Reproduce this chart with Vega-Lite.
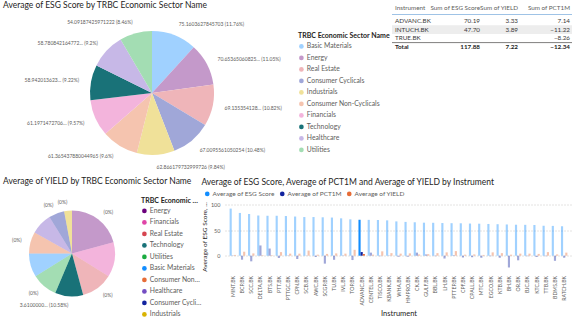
{
  "$schema": "https://vega.github.io/schema/vega-lite/v6.json",
  "background": "white",
  "padding": {"left": 3, "top": 0, "right": 0, "bottom": 0},
  "autosize": {"type": "pad"},
  "config": {
    "font": "Lato",
    "view": {"stroke": null},
    "title": {"font": "Lato", "fontSize": 8.5, "fontWeight": "normal", "color": "#252423", "anchor": "start"},
    "legend": {"labelFont": "Lato", "titleFont": "Lato", "labelColor": "#605E5C", "titleColor": "#252423", "symbolType": "circle", "symbolStrokeWidth": 0}
  },
  "datasets": {
    "esgBySector": [
      {"sector": "Basic Materials", "value": 75.1603627845703, "label": "75.1603627845703 (11.76%)"},
      {"sector": "Energy", "value": 70.6536506082, "label": "70.65365060825... (11.05%)"},
      {"sector": "Real Estate", "value": 69.135354128, "label": "69.135354128... (10.82%)"},
      {"sector": "Consumer Cyclicals", "value": 67.0095561050254, "label": "67.0095561050254 (10.48%)"},
      {"sector": "Industrials", "value": 62.866179732999726, "label": "62.866179732999726 (9.84%)"},
      {"sector": "Consumer Non-Cyclicals", "value": 61.365437880044965, "label": "61.365437880044965 (9.6%)"},
      {"sector": "Financials", "value": 61.1971472706, "label": "61.1971472706... (9.57%)"},
      {"sector": "Technology", "value": 58.942013623, "label": "58.942013623... (9.22%)"},
      {"sector": "Healthcare", "value": 58.780842164772, "label": "58.780842164772... (9.2%)"},
      {"sector": "Utilities", "value": 54.09187425971222, "label": "54.09187425971222 (8.46%)"}
    ],
    "yieldBySector": [
      {"sector": "Energy", "value": 7.1, "label": "(0%)"},
      {"sector": "Financials", "value": 4.46, "label": ""},
      {"sector": "Real Estate", "value": 4.08, "label": "(0%)"},
      {"sector": "Technology", "value": 3.61, "label": "3.6100000... (10.58%)"},
      {"sector": "Utilities", "value": 3.32, "label": "(0%)"},
      {"sector": "Basic Materials", "value": 3.03, "label": ""},
      {"sector": "Consumer Non-Cyclicals", "value": 2.8, "label": "(0%)"},
      {"sector": "Healthcare", "value": 2.75, "label": ""},
      {"sector": "Consumer Cyclicals", "value": 2.0, "label": "(0%)"},
      {"sector": "Industrials", "value": 1.0, "label": "(0%)"}
    ],
    "table": [
      {"Instrument": "ADVANC.BK", "Sum of ESG Score": 70.19, "Sum of YIELD": 3.33, "Sum of PCT1M": 7.14},
      {"Instrument": "INTUCH.BK", "Sum of ESG Score": 47.70, "Sum of YIELD": 3.89, "Sum of PCT1M": -11.22},
      {"Instrument": "TRUE.BK", "Sum of ESG Score": null, "Sum of YIELD": null, "Sum of PCT1M": -8.26},
      {"Instrument": "Total", "Sum of ESG Score": 117.88, "Sum of YIELD": 7.22, "Sum of PCT1M": -12.34}
    ],
    "instruments": [
      {"Instrument": "MINT.BK", "Average of ESG Score": 92, "Average of PCT1M": -0.5, "Average of YIELD": 1.5},
      {"Instrument": "BCP.BK", "Average of ESG Score": 83.5, "Average of PCT1M": -7.8, "Average of YIELD": 7.8},
      {"Instrument": "SCC.BK", "Average of ESG Score": 81.5, "Average of PCT1M": -11, "Average of YIELD": 4.5},
      {"Instrument": "DELTA.BK", "Average of ESG Score": 78.5, "Average of PCT1M": 20, "Average of YIELD": 1},
      {"Instrument": "BTS.BK", "Average of ESG Score": 78, "Average of PCT1M": 14, "Average of YIELD": 1},
      {"Instrument": "PTT.BK", "Average of ESG Score": 78, "Average of PCT1M": -4.5, "Average of YIELD": 7},
      {"Instrument": "PTTGC.BK", "Average of ESG Score": 77.5, "Average of PCT1M": 0.5, "Average of YIELD": 4},
      {"Instrument": "CPN.BK", "Average of ESG Score": 76.5, "Average of PCT1M": -6.5, "Average of YIELD": 4},
      {"Instrument": "SCB.BK", "Average of ESG Score": 75.5, "Average of PCT1M": 0.3, "Average of YIELD": 10},
      {"Instrument": "AWC.BK", "Average of ESG Score": 75.5, "Average of PCT1M": -2.5, "Average of YIELD": 2},
      {"Instrument": "SCGP.BK", "Average of ESG Score": 75, "Average of PCT1M": -15.5, "Average of YIELD": 3.5},
      {"Instrument": "TU.BK", "Average of ESG Score": 74.5, "Average of PCT1M": -8, "Average of YIELD": 4.5},
      {"Instrument": "IVL.BK", "Average of ESG Score": 73, "Average of PCT1M": 0.5, "Average of YIELD": 4},
      {"Instrument": "TOP.BK", "Average of ESG Score": 71, "Average of PCT1M": -8.5, "Average of YIELD": 11.5},
      {"Instrument": "ADVANC.BK", "Average of ESG Score": 70.19, "Average of PCT1M": 7.14, "Average of YIELD": 3.33},
      {"Instrument": "CENTEL.BK", "Average of ESG Score": 70, "Average of PCT1M": 6, "Average of YIELD": 2},
      {"Instrument": "TISCO.BK", "Average of ESG Score": 69.7, "Average of PCT1M": -1, "Average of YIELD": 8.5},
      {"Instrument": "KBANK.BK", "Average of ESG Score": 69, "Average of PCT1M": 0.5, "Average of YIELD": 5},
      {"Instrument": "WHA.BK", "Average of ESG Score": 67, "Average of PCT1M": -2, "Average of YIELD": 4},
      {"Instrument": "HMPRO.BK", "Average of ESG Score": 66, "Average of PCT1M": -2, "Average of YIELD": 4.5},
      {"Instrument": "CK.BK", "Average of ESG Score": 65.3, "Average of PCT1M": 6, "Average of YIELD": 2.5},
      {"Instrument": "GULF.BK", "Average of ESG Score": 64.5, "Average of PCT1M": 2.5, "Average of YIELD": 3},
      {"Instrument": "BBL.BK", "Average of ESG Score": 64.3, "Average of PCT1M": -1, "Average of YIELD": 5},
      {"Instrument": "LH.BK", "Average of ESG Score": 63.8, "Average of PCT1M": -5.5, "Average of YIELD": 6.5},
      {"Instrument": "PTTEP.BK", "Average of ESG Score": 63.5, "Average of PCT1M": 1, "Average of YIELD": 9},
      {"Instrument": "CPF.BK", "Average of ESG Score": 63.3, "Average of PCT1M": -3.5, "Average of YIELD": 2},
      {"Instrument": "CPALL.BK", "Average of ESG Score": 62.8, "Average of PCT1M": -3, "Average of YIELD": 2.5},
      {"Instrument": "MTC.BK", "Average of ESG Score": 62.5, "Average of PCT1M": -4, "Average of YIELD": 1.5},
      {"Instrument": "EGCO.BK", "Average of ESG Score": 62, "Average of PCT1M": -1, "Average of YIELD": 6.5},
      {"Instrument": "KTB.BK", "Average of ESG Score": 61.5, "Average of PCT1M": -4, "Average of YIELD": 5},
      {"Instrument": "BH.BK", "Average of ESG Score": 61, "Average of PCT1M": -23, "Average of YIELD": 2},
      {"Instrument": "OR.BK", "Average of ESG Score": 60.5, "Average of PCT1M": -9, "Average of YIELD": 4},
      {"Instrument": "BJC.BK", "Average of ESG Score": 60.3, "Average of PCT1M": -1, "Average of YIELD": 4},
      {"Instrument": "KTC.BK", "Average of ESG Score": 60, "Average of PCT1M": -2.5, "Average of YIELD": 3.5},
      {"Instrument": "TTB.BK", "Average of ESG Score": 58.5, "Average of PCT1M": -1, "Average of YIELD": 7},
      {"Instrument": "BDMS.BK", "Average of ESG Score": 58.2, "Average of PCT1M": -10, "Average of YIELD": 2.5},
      {"Instrument": "RATCH.BK", "Average of ESG Score": 57.5, "Average of PCT1M": -4, "Average of YIELD": 6}
    ]
  },
  "spacing": 6.5,
  "resolve": {"scale": {"color": "independent"}, "legend": {"color": "independent"}},
  "vconcat": [
    {
      "bounds": "flush",
      "spacing": 92,
      "resolve": {"scale": {"color": "independent"}, "legend": {"color": "independent"}},
      "hconcat": [
        {
          "width": 296,
          "height": 144,
          "title": {"text": "Average of ESG Score by TRBC Economic Sector Name", "offset": 10.5, "dx": -1},
          "data": {"name": "esgBySector"},
          "encoding": {
            "theta": {"field": "value", "type": "quantitative", "stack": true},
            "order": {"field": "value", "type": "quantitative", "sort": "descending"}
          },
          "layer": [
            {
              "mark": {"type": "arc", "outerRadius": 62},
              "encoding": {
                "color": {
                  "field": "sector", "type": "nominal",
                  "scale": {
                    "domain": ["Basic Materials", "Energy", "Real Estate", "Consumer Cyclicals", "Industrials", "Consumer Non-Cyclicals", "Financials", "Technology", "Healthcare", "Utilities"],
                    "range": ["#A0D1FF", "#C499CA", "#EFB5B9", "#A0A7D8", "#F0E199", "#F5C4AF", "#F3B4DC", "#197278", "#C7B8E7", "#A3DDB3"]
                  },
                  "legend": {
                    "orient": "none", "legendX": 294, "legendY": 11,
                    "title": "TRBC Economic Sector Name",
                    "titleFontSize": 7, "titleFontWeight": "bold", "titlePadding": 4,
                    "labelFontSize": 6.8, "symbolSize": 22, "rowPadding": 3.5, "labelOffset": 2
                  }
                }
              }
            },
            {
              "mark": {"type": "text", "radius": 74, "align": "left", "baseline": "middle", "fontSize": 5, "color": "#605E5C"},
              "encoding": {
                "detail": {"field": "sector"},
                "text": {"condition": {"test": "indexof(['Basic Materials','Energy','Real Estate','Consumer Cyclicals','Industrials'], datum.sector) >= 0", "field": "label", "type": "nominal"}, "value": ""}
              }
            },
            {
              "mark": {"type": "text", "radius": 74, "align": "right", "baseline": "middle", "fontSize": 5, "color": "#605E5C"},
              "encoding": {
                "detail": {"field": "sector"},
                "text": {"condition": {"test": "indexof(['Basic Materials','Energy','Real Estate','Consumer Cyclicals','Industrials'], datum.sector) < 0", "field": "label", "type": "nominal"}, "value": ""}
              }
            }
          ]
        },
        {
          "width": 180,
          "height": 31,
          "data": {"name": "table"},
          "layer": [
            {
              "transform": [{"filter": "datum.Instrument === 'INTUCH.BK'"}],
              "mark": {"type": "rect", "color": "#EDEDED"},
              "encoding": {
                "y": {"field": "Instrument", "type": "nominal", "scale": {"domain": ["ADVANC.BK", "INTUCH.BK", "TRUE.BK", "Total"], "range": [-4.5, 30.3], "paddingInner": 0, "paddingOuter": 0}, "axis": null}
              }
            },
            {
              "transform": [{"filter": "datum.Instrument === 'ADVANC.BK'"}],
              "mark": {"type": "rule", "color": "#9FC3E6", "strokeWidth": 1, "yOffset": -2},
              "encoding": {"y": {"field": "Instrument", "type": "nominal", "bandPosition": 0}}
            },
            {
              "transform": [{"filter": "datum.Instrument === 'Total'"}],
              "mark": {"type": "rule", "color": "#605E5C", "strokeWidth": 0.8},
              "encoding": {"y": {"field": "Instrument", "type": "nominal", "bandPosition": 0}}
            },
            {
              "transform": [{"filter": "datum.Instrument !== 'Total'"}],
              "mark": {"type": "text", "align": "left", "baseline": "middle", "fontSize": 6.3, "color": "#3B3A39", "dx": -19.5},
              "encoding": {
                "x": {
                  "datum": "Instrument", "type": "nominal",
                  "scale": {"type": "band", "domain": ["Instrument", "Sum of ESG Score", "Sum of YIELD", "Sum of PCT1M"], "paddingInner": 0, "paddingOuter": 0},
                  "axis": {
                    "orient": "top", "title": null, "domain": false, "ticks": false, "tickSize": 0,
                    "labelAngle": 0, "labelFontSize": 6.3, "labelColor": "#605E5C", "labelPadding": 11,
                    "labelAlign": {"condition": {"test": "datum.value === 'Instrument'", "value": "left"}, "value": "right"},
                    "labelOffset": {"condition": [{"test": "datum.value === 'Instrument'", "value": -19.5}, {"test": "datum.value === 'Sum of YIELD'", "value": 13.5}], "value": 20.5}
                  }
                },
                "y": {"field": "Instrument", "type": "nominal"},
                "text": {"field": "Instrument", "type": "nominal"}
              }
            },
            {
              "transform": [{"filter": "datum.Instrument === 'Total'"}],
              "mark": {"type": "text", "align": "left", "baseline": "middle", "fontSize": 6.3, "fontWeight": "bold", "color": "#252423", "dx": -19.5},
              "encoding": {
                "x": {"datum": "Instrument", "type": "nominal"},
                "y": {"field": "Instrument", "type": "nominal"},
                "text": {"field": "Instrument", "type": "nominal"}
              }
            },
            {
              "transform": [{"filter": "datum.Instrument !== 'Total' && isValid(datum['Sum of ESG Score'])"}],
              "mark": {"type": "text", "align": "right", "baseline": "middle", "fontSize": 6.3, "color": "#3B3A39", "dx": 20.5},
              "encoding": {
                "x": {"datum": "Sum of ESG Score", "type": "nominal"},
                "y": {"field": "Instrument", "type": "nominal"},
                "text": {"field": "Sum of ESG Score", "type": "quantitative", "format": ".2f"}
              }
            },
            {
              "transform": [{"filter": "datum.Instrument !== 'Total' && isValid(datum['Sum of YIELD'])"}],
              "mark": {"type": "text", "align": "right", "baseline": "middle", "fontSize": 6.3, "color": "#3B3A39", "dx": 13.5},
              "encoding": {
                "x": {"datum": "Sum of YIELD", "type": "nominal"},
                "y": {"field": "Instrument", "type": "nominal"},
                "text": {"field": "Sum of YIELD", "type": "quantitative", "format": ".2f"}
              }
            },
            {
              "transform": [{"filter": "datum.Instrument !== 'Total' && isValid(datum['Sum of PCT1M'])"}],
              "mark": {"type": "text", "align": "right", "baseline": "middle", "fontSize": 6.3, "color": "#3B3A39", "dx": 20.5},
              "encoding": {
                "x": {"datum": "Sum of PCT1M", "type": "nominal"},
                "y": {"field": "Instrument", "type": "nominal"},
                "text": {"field": "Sum of PCT1M", "type": "quantitative", "format": ".2f"}
              }
            },
            {
              "transform": [{"filter": "datum.Instrument === 'Total'"}],
              "mark": {"type": "text", "align": "right", "baseline": "middle", "fontSize": 6.3, "fontWeight": "bold", "color": "#252423", "dx": 20.5},
              "encoding": {
                "x": {"datum": "Sum of ESG Score", "type": "nominal"},
                "y": {"field": "Instrument", "type": "nominal"},
                "text": {"field": "Sum of ESG Score", "type": "quantitative", "format": ".2f"}
              }
            },
            {
              "transform": [{"filter": "datum.Instrument === 'Total'"}],
              "mark": {"type": "text", "align": "right", "baseline": "middle", "fontSize": 6.3, "fontWeight": "bold", "color": "#252423", "dx": 13.5},
              "encoding": {
                "x": {"datum": "Sum of YIELD", "type": "nominal"},
                "y": {"field": "Instrument", "type": "nominal"},
                "text": {"field": "Sum of YIELD", "type": "quantitative", "format": ".2f"}
              }
            },
            {
              "transform": [{"filter": "datum.Instrument === 'Total'"}],
              "mark": {"type": "text", "align": "right", "baseline": "middle", "fontSize": 6.3, "fontWeight": "bold", "color": "#252423", "dx": 20.5},
              "encoding": {
                "x": {"datum": "Sum of PCT1M", "type": "nominal"},
                "y": {"field": "Instrument", "type": "nominal"},
                "text": {"field": "Sum of PCT1M", "type": "quantitative", "format": ".2f"}
              }
            }
          ]
        }
      ]
    },
    {
      "bounds": "flush",
      "spacing": 85,
      "resolve": {"scale": {"color": "independent"}, "legend": {"color": "independent"}},
      "hconcat": [
        {
          "width": 136,
          "height": 98,
          "title": {"text": "Average of YIELD by TRBC Economic Sector Name", "offset": 11, "dx": -1},
          "data": {"name": "yieldBySector"},
          "encoding": {
            "theta": {"field": "value", "type": "quantitative", "stack": true},
            "order": {"field": "value", "type": "quantitative", "sort": "descending"}
          },
          "layer": [
            {
              "mark": {"type": "arc", "outerRadius": 43},
              "encoding": {
                "color": {
                  "field": "sector", "type": "nominal",
                  "scale": {
                    "domain": ["Energy", "Financials", "Real Estate", "Technology", "Utilities", "Basic Materials", "Consumer Non-Cyclicals", "Healthcare", "Consumer Cyclicals", "Industrials"],
                    "range": ["#6B007B", "#E044A7", "#D64550", "#197278", "#1AAB40", "#118DFF", "#E66C37", "#744EC2", "#12239E", "#D9B300"]
                  },
                  "legend": {
                    "orient": "none", "legendX": 137, "legendY": -8,
                    "title": "TRBC Economic Sector Name", "titleLimit": 60,
                    "titleFontSize": 7, "titleFontWeight": "bold", "titlePadding": 4,
                    "labelFontSize": 6.8, "labelLimit": 52, "symbolSize": 22, "rowPadding": 3.5, "labelOffset": 2
                  }
                },
                "opacity": {"condition": {"test": "datum.sector === 'Technology'", "value": 1}, "value": 0.4}
              }
            },
            {
              "mark": {"type": "text", "radius": 52, "align": "left", "baseline": "middle", "fontSize": 5, "color": "#605E5C"},
              "encoding": {
                "detail": {"field": "sector"},
                "text": {"condition": {"test": "indexof(['Energy','Financials','Real Estate'], datum.sector) >= 0", "field": "label", "type": "nominal"}, "value": ""}
              }
            },
            {
              "mark": {"type": "text", "radius": 52, "align": "right", "baseline": "middle", "fontSize": 5, "color": "#605E5C"},
              "encoding": {
                "detail": {"field": "sector"},
                "text": {"condition": {"test": "indexof(['Energy','Financials','Real Estate'], datum.sector) < 0", "field": "label", "type": "nominal"}, "value": ""}
              }
            }
          ]
        },
        {
          "width": 347,
          "height": 64,
          "title": {"text": "Average of ESG Score, Average of PCT1M and Average of YIELD by Instrument", "offset": 4.5, "dx": 0},
          "data": {"name": "instruments"},
          "transform": [{"fold": ["Average of ESG Score", "Average of PCT1M", "Average of YIELD"], "as": ["measure", "value"]}],
          "mark": {"type": "bar"},
          "encoding": {
            "x": {
              "field": "Instrument", "type": "nominal", "sort": null,
              "scale": {"paddingInner": 0.3, "paddingOuter": 0.5},
              "axis": {
                "title": "Instrument", "titleFontSize": 7.5, "titleFontWeight": "normal", "titleColor": "#252423", "titlePadding": 4,
                "labelAngle": -90, "labelFontSize": 5.2, "labelColor": "#605E5C", "labelPadding": 7,
                "ticks": false, "domain": false
              }
            },
            "xOffset": {"field": "measure", "type": "nominal", "sort": ["Average of ESG Score", "Average of PCT1M", "Average of YIELD"]},
            "y": {
              "field": "value", "type": "quantitative",
              "scale": {"domain": [-25, 100], "nice": false},
              "axis": {
                "values": [0, 50, 100], "title": "Average of ESG Score, ...",
                "titleFontSize": 6.5, "titleFontWeight": "normal", "titleColor": "#252423", "titlePadding": 3,
                "labelFontSize": 5.5, "labelColor": "#605E5C", "labelPadding": 5,
                "domain": false, "ticks": false, "grid": true, "gridDash": [1, 2], "gridColor": "#C8C6C4"
              }
            },
            "color": {
              "field": "measure", "type": "nominal",
              "scale": {"domain": ["Average of ESG Score", "Average of PCT1M", "Average of YIELD"], "range": ["#118DFF", "#12239E", "#E66C37"]},
              "legend": {
                "orient": "none", "legendX": -21, "legendY": -14, "direction": "horizontal", "title": null,
                "labelFontSize": 6.5, "symbolSize": 22, "columnPadding": 4, "labelOffset": 2
              }
            },
            "opacity": {"condition": {"test": "datum.Instrument === 'ADVANC.BK'", "value": 1}, "value": 0.4}
          }
        }
      ]
    }
  ]
}
